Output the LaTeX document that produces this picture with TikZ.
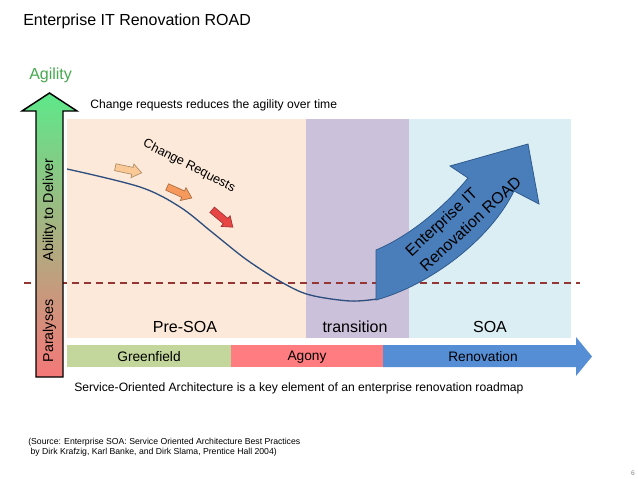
\documentclass[tikz,border=0pt]{standalone}
\usepackage{fontspec}
\setmainfont{Liberation Sans}
\begin{document}
\begin{tikzpicture}[x=0.75pt,y=-0.75pt,
  txt/.style={inner sep=0pt,text=black},
  bandtxt/.style={txt,font=\fontsize{12}{14}\selectfont},
  bartxt/.style={txt,font=\fontsize{10.3}{12}\selectfont},
  crarrow/.style={draw=#1!70!black,fill=#1,line width=0.5pt,line join=miter}]
\definecolor{peach}{HTML}{FDE9D9}
\definecolor{lilac}{HTML}{CCC1DA}
\definecolor{skyl}{HTML}{DBEEF4}
\definecolor{gfield}{HTML}{C3D69B}
\definecolor{agony}{HTML}{FF7C80}
\definecolor{renov}{HTML}{558ED5}
\definecolor{road}{HTML}{4A7EBB}
\definecolor{roadline}{HTML}{2F5A8C}
\definecolor{curvec}{HTML}{2E4E7E}
\definecolor{dashc}{HTML}{943634}
\definecolor{agtop}{HTML}{5EE88A}
\definecolor{agmid}{HTML}{A49A72}
\definecolor{agbot}{HTML}{F47878}
\definecolor{agil}{HTML}{46A84E}
\definecolor{cra}{HTML}{FAC996}
\definecolor{crb}{HTML}{F59A5C}
\definecolor{crc}{HTML}{E84545}
\useasboundingbox (0,0) rectangle (638,478);
\fill[white] (0,0) rectangle (638,478);
% title
\node[txt,anchor=west,font=\fontsize{12}{14}\selectfont] (title) at (23,21) {Enterprise IT Renovation ROAD};
\node[txt,anchor=west,text=agil,font=\fontsize{12}{14}\selectfont] (agility) at (29,75) {Agility};
\node[txt,anchor=west,font=\fontsize{9.1}{11}\selectfont] (note) at (90,105) {Change requests reduces the agility over time};
% bands
\fill[peach] (67,119) rectangle (306,338);
\fill[lilac] (306,119) rectangle (409,338);
\fill[skyl] (409,119) rectangle (571,338);
\node[bandtxt] (presoa) at (185,327) {Pre-SOA};
\node[bandtxt] (trans) at (355,327) {transition};
\node[bandtxt] (soa) at (490,327) {SOA};
% dashed line
\coordinate (d1) at (24,283);
\coordinate (d2) at (580,283);
\draw[dashc,line width=1.1pt,dash pattern=on 5.25pt off 3.75pt] (d1) -- (d2);
% curve
\draw[curvec,line width=1pt] plot[smooth,tension=0.55] coordinates {(67,169) (140,187) (180,207) (213,233) (247,260) (283,283) (310,295) (350,301) (377,299)};
% big road arrow
\filldraw[fill=road,draw=roadline,line width=0.6pt,line join=miter]
  (376,250) .. controls (405,238) and (440,212) .. (468,178)
  -- (450,166) -- (528,144) -- (539,204) -- (514,191)
  .. controls (490,240) and (430,285) .. (376,300) -- cycle;
\node[txt,rotate=43,align=left,font=\fontsize{12}{16}\selectfont] (roadtxt) at (463,216) {Enterprise IT\\Renovation ROAD};
% change request arrows
\foreach \cx/\cy/\ang/\col in {128.5/170/-12/cra, 179.5/192.5/-24/crb, 222.5/218.5/-40/crc}{
  \draw[crarrow=\col,shift={(\cx,\cy)},rotate=\ang]
    (-13.5,-3.5) -- (4,-3.5) -- (4,-7) -- (13.5,0) -- (4,7) -- (4,3.5) -- (-13.5,3.5) -- cycle;
}
\node[txt,rotate=-27,font=\fontsize{9.5}{11}\selectfont] (cr) at (189,166) {Change Requests};
% agility arrow
\path[draw=black,line width=1.1pt,line join=miter,top color=agtop,middle color=agmid,bottom color=agbot]
  (49.5,93) -- (77,111) -- (63,111) -- (63,377) -- (36,377) -- (36,111) -- (22,111) -- cycle;
\node[txt,rotate=90,font=\fontsize{10.7}{12}\selectfont] (abil) at (49.5,210) {Ability to Deliver};
\node[txt,rotate=90,font=\fontsize{10.7}{12}\selectfont] (para) at (49.5,331) {Paralyses};
% bottom bar
\fill[gfield] (67,345) rectangle (231,367);
\fill[agony] (231,345) rectangle (383,367);
\fill[renov] (383,345) -- (576,345) -- (576,337) -- (592,356.5) -- (576,376) -- (576,367) -- (383,367) -- cycle;
\node[bartxt] (green) at (149,357) {Greenfield};
\node[bartxt] (agonyt) at (307,357) {Agony};
\node[bartxt] (renovt) at (483,357) {Renovation};
% bottom texts
\node[txt,anchor=west,font=\fontsize{9.1}{11}\selectfont] (soanote) at (74,388) {Service-Oriented Architecture is a key element of an enterprise renovation roadmap};
\node[txt,anchor=north west,align=left,font=\fontsize{6.5}{7.6}\selectfont] (source) at (28,438) {(Source: Enterprise SOA: Service Oriented Architecture Best Practices\\\hspace*{1.8pt}by Dirk Krafzig, Karl Banke, and Dirk Slama, Prentice Hall 2004)};
\node[txt,text=gray,font=\fontsize{5}{6}\selectfont] (pnum) at (633,473) {6};
\end{tikzpicture}
\end{document}
